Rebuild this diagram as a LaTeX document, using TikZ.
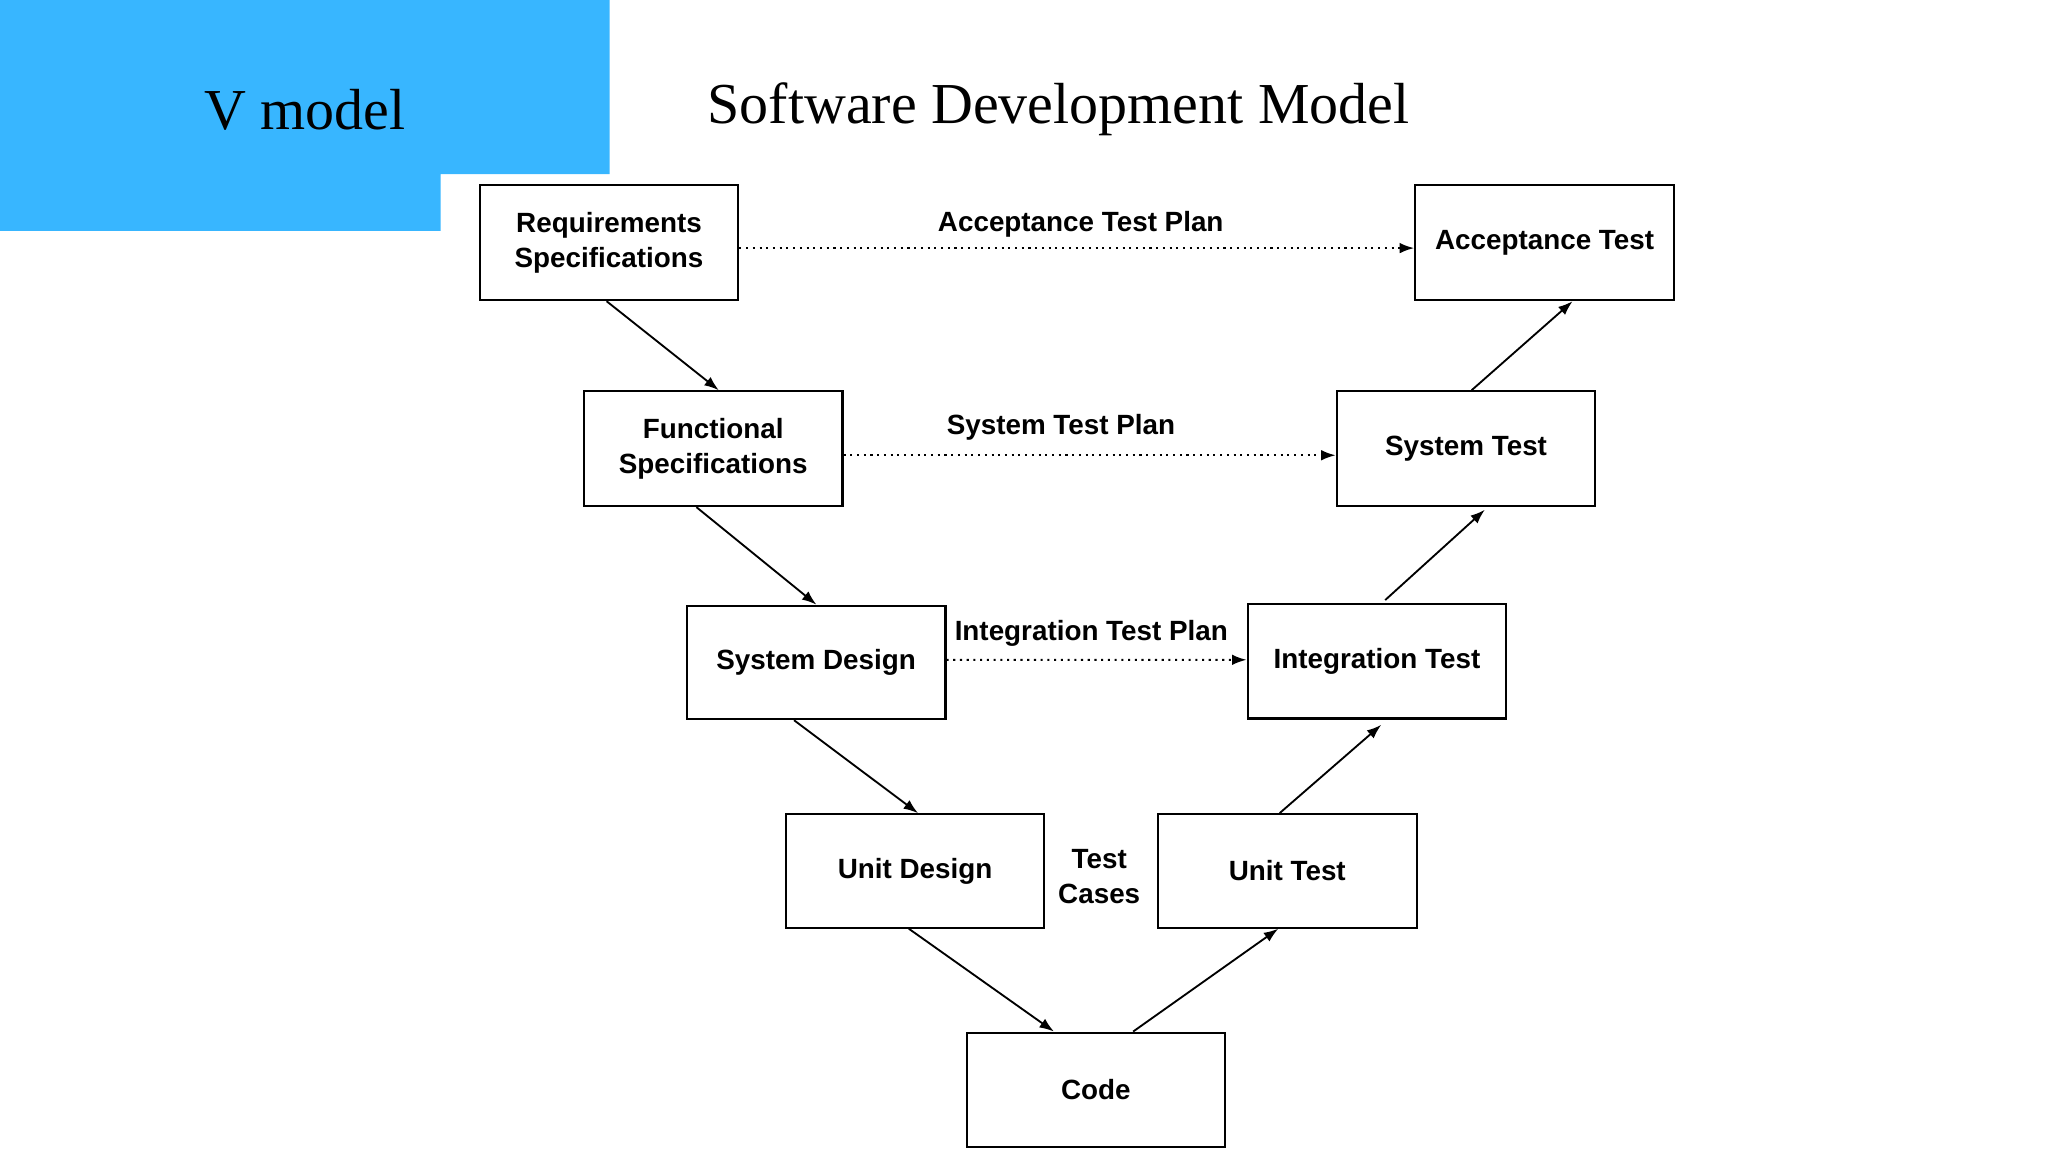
\documentclass[tikz,border=0pt]{standalone}
\usepackage{fontspec}
\setmainfont{Liberation Serif}
\setsansfont{Liberation Sans}
\usetikzlibrary{arrows.meta}
\definecolor{vblue}{HTML}{38B6FF}
\begin{document}
\begin{tikzpicture}[x=0.02cm,y=-0.02cm,
  bx/.style={draw,line width=0.9pt,minimum width=3.92cm,minimum height=1.74cm,font=\sffamily\bfseries\fontsize{12}{15}\selectfont,align=center,inner sep=0pt},
  lab/.style={font=\sffamily\bfseries\fontsize{12}{15}\selectfont,align=center},
  arr/.style={line width=0.8pt,-{Latex[length=2.2mm,width=1.6mm]}},
  dot/.style={line width=0.9pt,dotted,-{Latex[length=2.2mm,width=1.6mm]}}]
\useasboundingbox (0,0) rectangle (1552,873);
\fill[vblue] (0,0) -- (462,0) -- (462,132) -- (334,132) -- (334,175) -- (0,175) -- cycle;
\node[font=\fontsize{25}{30}\selectfont] (vm) at (231,83) {V model};
\node[font=\fontsize{25}{30}\selectfont,anchor=west] (title) at (530,83) {Software Development Model};
\node[bx] (req) at (461.5,184) {Requirements\\Specifications};
\node[bx] (acc) at (1170.5,184) {Acceptance Test};
\node[bx] (fun) at (540.5,340) {Functional\\Specifications};
\node[bx] (syt) at (1111,340) {System Test};
\node[bx,minimum height=1.72cm] (syd) at (618.5,502) {System Design};
\node[bx] (int) at (1043.5,501) {Integration Test};
\node[bx,minimum height=1.72cm] (ud) at (693.5,660) {Unit Design};
\node[bx,minimum height=1.72cm] (ut) at (975.5,660) {Unit Test};
\node[bx] (code) at (830.5,826) {Code};
\draw[arr] ([xshift=1.94cm]req.south west) -- ([xshift=2.06cm]fun.north west);
\draw[arr] ([xshift=1.72cm]fun.south west) -- ([xshift=1.98cm]syd.north west);
\draw[arr] ([xshift=1.64cm]syd.south west) -- ([xshift=2.02cm]ud.north west);
\draw[arr] ([xshift=1.88cm]ud.south west) -- ([xshift=1.34cm]code.north west);
\draw[arr] ([xshift=2.54cm]code.north west) -- ([xshift=1.84cm]ut.south west);
\draw[arr] ([xshift=1.86cm]ut.north west) -- ([xshift=2.04cm,yshift=-0.08cm]int.south west);
\draw[arr] ([xshift=2.10cm,yshift=0.04cm]int.north west) -- ([xshift=2.26cm,yshift=-0.04cm]syt.south west);
\draw[arr] ([xshift=2.06cm]syt.north west) -- ([xshift=2.40cm]acc.south west);
\draw[dot] ([yshift=-0.08cm]req.east) -- ([yshift=-0.08cm]acc.west);
\draw[dot] ([yshift=-0.1cm]fun.east) -- ([yshift=-0.1cm]syt.west);
\draw[dot] ([yshift=0.04cm]syd.east) -- ([yshift=0.02cm]int.west);
\node[lab] (l1) at (819,170) {Acceptance Test Plan};
\node[lab] (l2) at (804,324) {System Test Plan};
\node[lab] (l3) at (827,480) {Integration Test Plan};
\node[lab] (l4) at (833,664) {Test\\Cases};
\end{tikzpicture}
\end{document}
